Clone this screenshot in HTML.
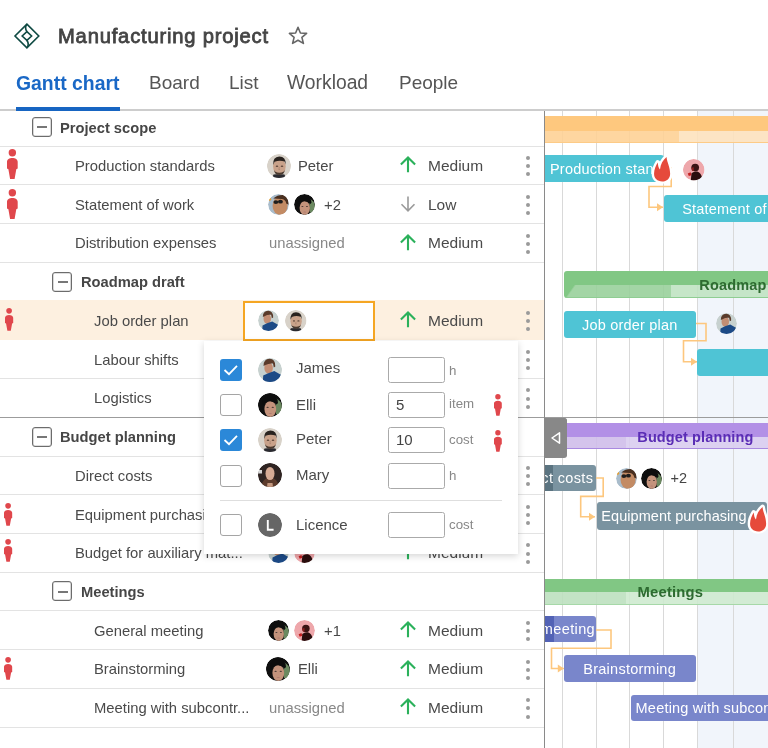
<!DOCTYPE html>
<html><head><meta charset="utf-8"><style>
html,body{margin:0;padding:0}
body{width:768px;height:748px;overflow:hidden;position:relative;background:#fff;font-family:"Liberation Sans", sans-serif}
.a{position:absolute}
.t{position:absolute;white-space:nowrap}
body>*{will-change:transform}
svg{overflow:visible}
</style></head><body>
<div class="a" style="left:0;top:0;width:768px;height:748px;overflow:hidden">
<div class="a" style="left:697px;top:110px;width:71px;height:638px;background:#f1f5fb"></div><div class="a" style="left:562px;top:110px;width:1px;height:638px;background:#d9d9d9"></div><div class="a" style="left:596px;top:110px;width:1px;height:638px;background:#d9d9d9"></div><div class="a" style="left:629px;top:110px;width:1px;height:638px;background:#d9d9d9"></div><div class="a" style="left:663px;top:110px;width:1px;height:638px;background:#d9d9d9"></div><div class="a" style="left:697px;top:110px;width:1px;height:638px;background:#d9d9d9"></div><div class="a" style="left:733px;top:110px;width:1px;height:638px;background:#d9d9d9"></div><div class="a" style="left:530.00px;top:116.00px;width:260.00px;height:27.00px;border-radius:3px;overflow:hidden"><div class="a" style="left:0;top:0;width:100%;height:15.00px;background:#fec87e"></div><div class="a" style="left:0;top:15.00px;width:148.50px;height:12.00px;background:rgba(254,208,147,0.88);"></div><div class="a" style="left:148.50px;top:15.00px;width:111.50px;height:12.00px;background:rgba(253,225,188,0.88)"></div><div class="a" style="left:0;top:26.00px;width:100%;height:1px;background:#fdcb87"></div></div><div class="a" style="left:530.00px;top:155.00px;width:134.00px;height:26.50px;background:#4fc4d5;border-radius:3px;overflow:hidden"></div><div class="t" style="left:550.00px;top:153.65px;height:30px;line-height:30px;font-size:14.5px;font-weight:normal;color:#fff;letter-spacing:0.2px;">Production standards</div><div class="a" style="left:664.00px;top:195.00px;width:126.00px;height:26.60px;background:#4fc4d5;border-radius:3px;overflow:hidden"></div><div class="t" style="left:682.20px;top:193.70px;height:30px;line-height:30px;font-size:14.5px;font-weight:normal;color:#fff;letter-spacing:0.2px;">Statement of work</div><div class="a" style="left:563.60px;top:271.00px;width:226.40px;height:26.80px;border-radius:3px;overflow:hidden"><div class="a" style="left:0;top:0;width:100%;height:14.00px;background:#81c784"></div><div class="a" style="left:0;top:14.00px;width:12px;height:12.80px;background:#81c784;clip-path:polygon(0 0,12px 0,3px 100%,0 100%)"></div><div class="a" style="left:0;top:14.00px;width:107.40px;height:12.80px;background:rgba(150,207,153,0.88);clip-path:polygon(11px 0,100% 0,100% 100%,2px 100%)"></div><div class="a" style="left:107.40px;top:14.00px;width:119.00px;height:12.80px;background:rgba(190,227,192,0.88)"></div><div class="a" style="left:0;top:25.80px;width:100%;height:1px;background:#8fcd92"></div></div><div class="t" style="left:699.30px;top:269.90px;height:30px;line-height:30px;font-size:14.5px;font-weight:bold;color:#2e6b31;letter-spacing:0.15px;">Roadmap</div><div class="a" style="left:563.60px;top:311.40px;width:132.40px;height:26.40px;background:#4fc4d5;border-radius:3px;overflow:hidden"></div><div class="t" style="left:563.60px;width:132.40px;text-align:center;top:309.60px;height:30px;line-height:30px;font-size:14.5px;color:#fff;letter-spacing:0.2px">Job order plan</div><div class="a" style="left:697.30px;top:348.60px;width:92.70px;height:27.50px;background:#4fc4d5;border-radius:3px;overflow:hidden"></div><div class="a" style="left:530.00px;top:423.30px;width:260.00px;height:26.20px;border-radius:3px;overflow:hidden"><div class="a" style="left:0;top:0;width:100%;height:13.40px;background:#b290e6"></div><div class="a" style="left:0;top:13.40px;width:96.40px;height:12.80px;background:rgba(206,188,233,0.88);"></div><div class="a" style="left:96.40px;top:13.40px;width:163.60px;height:12.80px;background:rgba(216,204,239,0.88)"></div><div class="a" style="left:0;top:25.20px;width:100%;height:1px;background:#a98ae0"></div></div><div class="t" style="left:637.30px;top:421.90px;height:30px;line-height:30px;font-size:14.5px;font-weight:bold;color:#5a2db5;letter-spacing:0.12px;">Budget planning</div><div class="a" style="left:530.00px;top:465.00px;width:65.60px;height:26.20px;background:#7a93a0;border-radius:3px;overflow:hidden"><div class="a" style="left:0;top:0;width:23.00px;height:100%;background:#5a7380"></div></div><div class="t" style="left:400px;width:193.4px;text-align:right;top:463.10px;height:30px;line-height:30px;font-size:14.5px;color:#fff;letter-spacing:0.37px">Direct costs</div><div class="a" style="left:597.00px;top:501.90px;width:170.00px;height:27.90px;background:#7a93a0;border-radius:3px;overflow:hidden"></div><div class="t" style="left:601.30px;top:501.25px;height:30px;line-height:30px;font-size:14.5px;font-weight:normal;color:#fff;letter-spacing:0.05px;">Equipment purchasing</div><div class="a" style="left:530.00px;top:578.80px;width:260.00px;height:26.00px;border-radius:3px;overflow:hidden"><div class="a" style="left:0;top:0;width:100%;height:13.20px;background:#81c784"></div><div class="a" style="left:0;top:13.20px;width:96.30px;height:12.80px;background:rgba(187,223,189,0.88);"></div><div class="a" style="left:96.30px;top:13.20px;width:163.70px;height:12.80px;background:rgba(205,233,206,0.88)"></div><div class="a" style="left:0;top:25.00px;width:100%;height:1px;background:#a6d8a8"></div></div><div class="t" style="left:637.50px;top:576.90px;height:30px;line-height:30px;font-size:14.8px;font-weight:bold;color:#2e6b31;letter-spacing:0.2px;">Meetings</div><div class="a" style="left:530.00px;top:616.00px;width:65.80px;height:26.20px;background:#7986cb;border-radius:3px;overflow:hidden"><div class="a" style="left:0;top:0;width:24.30px;height:100%;background:#5262b5"></div></div><div class="t" style="left:400px;width:195px;text-align:right;top:614.10px;height:30px;line-height:30px;font-size:14.5px;color:#fff;letter-spacing:0.37px">General meeting</div><div class="a" style="left:563.80px;top:654.60px;width:131.90px;height:27.70px;background:#7986cb;border-radius:3px;overflow:hidden"></div><div class="t" style="left:583.30px;top:653.85px;height:30px;line-height:30px;font-size:14.5px;font-weight:normal;color:#fff;letter-spacing:0.25px;">Brainstorming</div><div class="a" style="left:630.60px;top:694.50px;width:159.40px;height:26.30px;background:#7986cb;border-radius:3px;overflow:hidden"></div><div class="t" style="left:635.60px;top:693.05px;height:30px;line-height:30px;font-size:14.5px;font-weight:normal;color:#fff;letter-spacing:0.2px;">Meeting with subcontractors</div><svg class="a" style="left:0;top:0" width="768" height="748"><path d="M664,168 L671.2,168 L671.2,186.5 L649,186.5 L649,207.3 L663,207.3" stroke="#fdc77e" stroke-width="1.6" fill="none"/><path d="M657,203.3 L663,207.3 L657,211.3Z" fill="#fdc77e"/></svg><svg class="a" style="left:0;top:0" width="768" height="748"><path d="M696,323.5 L706,323.5 L706,340.8 L683.5,340.8 L683.5,361.7 L697,361.7" stroke="#fdc77e" stroke-width="1.6" fill="none"/><path d="M691,357.7 L697,361.7 L691,365.7Z" fill="#fdc77e"/></svg><svg class="a" style="left:0;top:0" width="768" height="748"><path d="M596,478 L603.2,478 L603.2,496.4 L580.7,496.4 L580.7,516.7 L595,516.7" stroke="#fdc77e" stroke-width="1.6" fill="none"/><path d="M589,512.7 L595,516.7 L589,520.7Z" fill="#fdc77e"/></svg><svg class="a" style="left:0;top:0" width="768" height="748"><path d="M596,630 L611,630 L611,648.2 L551.5,648.2 L551.5,668.5 L563.8,668.5" stroke="#fdc77e" stroke-width="1.6" fill="none"/><path d="M557.8,664.5 L563.8,668.5 L557.8,672.5Z" fill="#fdc77e"/></svg><svg class="a" style="left:653.60px;top:156.80px" width="16.2" height="24.4" viewBox="0 0 14.7 22.3"><path d="M11.4,0 C12,5.5 14.7,9 14.7,15.2 C14.7,19.6 11.6,22.3 7.4,22.3 C3.1,22.3 0,19.5 0,15.3 C0,11 1.8,7.5 3.4,5 C3.6,8 4.2,10 5.4,11.4 C5.9,6.5 8.2,2.8 11.4,0 Z" fill="#e64a3b" stroke="#fff" stroke-width="4.4" paint-order="stroke" stroke-linejoin="round"/></svg><svg class="a" style="left:750.00px;top:506.70px" width="16.2" height="24.4" viewBox="0 0 14.7 22.3"><path d="M11.4,0 C12,5.5 14.7,9 14.7,15.2 C14.7,19.6 11.6,22.3 7.4,22.3 C3.1,22.3 0,19.5 0,15.3 C0,11 1.8,7.5 3.4,5 C3.6,8 4.2,10 5.4,11.4 C5.9,6.5 8.2,2.8 11.4,0 Z" fill="#e64a3b" stroke="#fff" stroke-width="4.4" paint-order="stroke" stroke-linejoin="round"/></svg><svg class="a" style="left:682.65px;top:158.65px" width="21.5" height="21.5" viewBox="0 0 24 24"><defs><clipPath id="c1"><circle cx="12" cy="12" r="12"/></clipPath></defs><g clip-path="url(#c1)"><circle cx="12" cy="12" r="12" fill="#eea7ab"/><path d="M8.7,24 L9.5,16 Q12,13.6 16,14 Q20.5,15.5 21.5,22 L20,24Z" fill="#2a0e0e"/><circle cx="13.6" cy="9.6" r="4.3" fill="#3a1414"/><path d="M9.5,9.8 L12,9.2 L12,13.5 L10,13Z" fill="#8f1f1f"/><path d="M5.3,16.2 L8.5,14.8 L9.5,18 L6.5,19Z" fill="#c21f1f"/></g></svg><svg class="a" style="left:716.00px;top:312.90px" width="21" height="21" viewBox="0 0 24 24"><defs><clipPath id="c2"><circle cx="12" cy="12" r="12"/></clipPath></defs><g clip-path="url(#c2)"><circle cx="12" cy="12" r="12" fill="#c7d1cf"/><ellipse cx="10.6" cy="10" rx="4.3" ry="5.6" fill="#c38e74"/><path d="M5.5,8 Q5.5,1 11.5,0.8 Q17.5,1 17.3,8.5 L15.8,9.5 L15,5.5 Q11,5 7.5,7Z" fill="#5a3b2b"/><path d="M4.8,24 L5.2,17.6 L10.3,15.2 L16.3,13 L22.8,16.8 L20.5,24Z" fill="#1c4a86"/></g></svg><svg class="a" style="left:615.80px;top:467.50px" width="21" height="21" viewBox="0 0 24 24"><defs><clipPath id="c3"><circle cx="12" cy="12" r="12"/></clipPath></defs><g clip-path="url(#c3)"><circle cx="12" cy="12" r="12" fill="#a9bccb"/><ellipse cx="13.8" cy="13.5" rx="8.6" ry="10.5" fill="#c38b64"/><path d="M6,5 Q12,0 20,1.5 Q24,5 23.5,12 L21,11 Q20,6.5 16,5.8Z" fill="#4a3020"/><ellipse cx="9" cy="9.2" rx="2.8" ry="2.1" fill="#1e1e1e"/><ellipse cx="14.2" cy="8.8" rx="2.8" ry="2.1" fill="#1e1e1e"/><circle cx="1.8" cy="6" r="1.8" fill="#e8a030"/></g></svg><svg class="a" style="left:641.10px;top:467.50px" width="21" height="21" viewBox="0 0 24 24"><defs><clipPath id="c4"><circle cx="12" cy="12" r="12"/></clipPath></defs><g clip-path="url(#c4)"><circle cx="12" cy="12" r="12" fill="#0f0f0f"/><path d="M17.3,5 Q24,8 24,14 L22,22 L18,21Z" fill="#6b8960"/><ellipse cx="12.3" cy="16" rx="5.9" ry="8" fill="#c4937c"/><path d="M4,10 Q5,2 12,2 Q19.5,2 20,10 L18.6,11.5 Q16,8.5 12,8.2 Q7.5,8.2 5.2,12Z" fill="#0d0d0d"/><ellipse cx="9.6" cy="14.3" rx="1.2" ry="0.6" fill="#4a3a35"/><ellipse cx="14.8" cy="14.3" rx="1.2" ry="0.6" fill="#4a3a35"/><ellipse cx="12.3" cy="20.5" rx="1.6" ry="0.6" fill="#b07a70"/></g></svg><div class="t" style="left:670.50px;top:463.40px;height:30px;line-height:30px;font-size:14.5px;font-weight:normal;color:#444;letter-spacing:0px;">+2</div><div class="a" style="left:544px;top:418.3px;width:23.4px;height:39.3px;background:#888;border-radius:0 3px 3px 0"></div><svg class="a" style="left:550px;top:431px" width="12" height="14" viewBox="0 0 12 14"><path d="M9.5,1.8 L9.5,12.2 L2,7Z" stroke="#fff" stroke-width="1.5" fill="none" stroke-linejoin="round"/></svg>
</div>
<div class="a" style="left:0;top:110px;width:544px;height:638px;background:#fff"></div><div class="a" style="left:0;top:300.4px;width:544px;height:40.1px;background:#fdf0e0"></div><div class="a" style="left:0px;top:145.70px;width:544px;height:1px;background:#e3e3e3"></div><div class="a" style="left:0px;top:184.43px;width:544px;height:1px;background:#e3e3e3"></div><div class="a" style="left:0px;top:223.16px;width:544px;height:1px;background:#e3e3e3"></div><div class="a" style="left:0px;top:261.89px;width:544px;height:1px;background:#e3e3e3"></div><div class="a" style="left:0px;top:378.08px;width:544px;height:1px;background:#e3e3e3"></div><div class="a" style="left:0px;top:417.01px;width:768px;height:1px;background:#9c9c9c"></div><div class="a" style="left:0px;top:455.54px;width:544px;height:1px;background:#e3e3e3"></div><div class="a" style="left:0px;top:494.27px;width:544px;height:1px;background:#e3e3e3"></div><div class="a" style="left:0px;top:533.00px;width:544px;height:1px;background:#e3e3e3"></div><div class="a" style="left:0px;top:571.73px;width:544px;height:1px;background:#e3e3e3"></div><div class="a" style="left:0px;top:610.46px;width:544px;height:1px;background:#e3e3e3"></div><div class="a" style="left:0px;top:649.19px;width:544px;height:1px;background:#e3e3e3"></div><div class="a" style="left:0px;top:687.92px;width:544px;height:1px;background:#e3e3e3"></div><div class="a" style="left:0px;top:726.65px;width:544px;height:1px;background:#e3e3e3"></div><div class="a" style="left:32px;top:116.66px;width:18px;height:18px;border:1px solid #6c6c6c;border-radius:3px;box-shadow:inset 0 0 0 0.6px rgba(108,108,108,0.45)"></div><div class="a" style="left:37.3px;top:125.86px;width:9.6px;height:1.5px;background:#777"></div><div class="t" style="left:60.30px;top:112.56px;height:30px;line-height:30px;font-size:14.7px;font-weight:bold;color:#464646;letter-spacing:0px;">Project scope</div><div class="a" style="left:52.4px;top:271.58px;width:18px;height:18px;border:1px solid #6c6c6c;border-radius:3px;box-shadow:inset 0 0 0 0.6px rgba(108,108,108,0.45)"></div><div class="a" style="left:57.699999999999996px;top:280.78px;width:9.6px;height:1.5px;background:#777"></div><div class="t" style="left:80.70px;top:267.48px;height:30px;line-height:30px;font-size:14.7px;font-weight:bold;color:#464646;letter-spacing:0px;">Roadmap draft</div><div class="a" style="left:32px;top:426.50px;width:18px;height:18px;border:1px solid #6c6c6c;border-radius:3px;box-shadow:inset 0 0 0 0.6px rgba(108,108,108,0.45)"></div><div class="a" style="left:37.3px;top:435.70px;width:9.6px;height:1.5px;background:#777"></div><div class="t" style="left:60.30px;top:422.40px;height:30px;line-height:30px;font-size:14.7px;font-weight:bold;color:#464646;letter-spacing:0px;">Budget planning</div><div class="a" style="left:52.4px;top:581.42px;width:18px;height:18px;border:1px solid #6c6c6c;border-radius:3px;box-shadow:inset 0 0 0 0.6px rgba(108,108,108,0.45)"></div><div class="a" style="left:57.699999999999996px;top:590.62px;width:9.6px;height:1.5px;background:#777"></div><div class="t" style="left:80.70px;top:577.32px;height:30px;line-height:30px;font-size:14.7px;font-weight:bold;color:#464646;letter-spacing:0px;">Meetings</div><div class="t" style="left:75.00px;top:151.00px;height:30px;line-height:30px;font-size:14.8px;font-weight:normal;color:#4a4a4a;letter-spacing:0px;">Production standards</div><div class="t" style="left:75.00px;top:189.72px;height:30px;line-height:30px;font-size:14.8px;font-weight:normal;color:#4a4a4a;letter-spacing:0px;">Statement of work</div><div class="t" style="left:75.00px;top:228.46px;height:30px;line-height:30px;font-size:14.8px;font-weight:normal;color:#4a4a4a;letter-spacing:0px;">Distribution expenses</div><div class="t" style="left:93.60px;top:305.91px;height:30px;line-height:30px;font-size:14.8px;font-weight:normal;color:#4a4a4a;letter-spacing:0px;">Job order plan</div><div class="t" style="left:93.60px;top:344.64px;height:30px;line-height:30px;font-size:14.8px;font-weight:normal;color:#4a4a4a;letter-spacing:0px;">Labour shifts</div><div class="t" style="left:93.60px;top:383.37px;height:30px;line-height:30px;font-size:14.8px;font-weight:normal;color:#4a4a4a;letter-spacing:0px;">Logistics</div><div class="t" style="left:75.00px;top:460.83px;height:30px;line-height:30px;font-size:14.8px;font-weight:normal;color:#4a4a4a;letter-spacing:0px;">Direct costs</div><div class="t" style="left:75.00px;top:499.56px;height:30px;line-height:30px;font-size:14.8px;font-weight:normal;color:#4a4a4a;letter-spacing:0px;">Equipment purchasi</div><div class="t" style="left:75.00px;top:538.29px;height:30px;line-height:30px;font-size:14.8px;font-weight:normal;color:#4a4a4a;letter-spacing:0px;">Budget for auxiliary mat...</div><div class="t" style="left:93.60px;top:615.75px;height:30px;line-height:30px;font-size:14.8px;font-weight:normal;color:#4a4a4a;letter-spacing:0px;">General meeting</div><div class="t" style="left:93.60px;top:654.48px;height:30px;line-height:30px;font-size:14.8px;font-weight:normal;color:#4a4a4a;letter-spacing:0px;">Brainstorming</div><div class="t" style="left:93.60px;top:693.21px;height:30px;line-height:30px;font-size:14.8px;font-weight:normal;color:#4a4a4a;letter-spacing:0px;">Meeting with subcontr...</div><svg class="a" style="left:6.60px;top:149.30px" width="10.70" height="30.00" viewBox="0 0 10.7 30"><circle cx="5.35" cy="3.7" r="3.7" fill="#e0474c"/><path d="M0,12.8 C0,10.6 2.4,9.1 5.35,9.1 C8.3,9.1 10.7,10.6 10.7,12.8 L10.7,19.6 L9.3,20.2 L7.6,29.9 L3.1,29.9 L1.4,20.2 L0,19.6 Z" fill="#e0474c"/></svg><svg class="a" style="left:6.60px;top:189.40px" width="10.70" height="30.00" viewBox="0 0 10.7 30"><circle cx="5.35" cy="3.7" r="3.7" fill="#e0474c"/><path d="M0,12.8 C0,10.6 2.4,9.1 5.35,9.1 C8.3,9.1 10.7,10.6 10.7,12.8 L10.7,19.6 L9.3,20.2 L7.6,29.9 L3.1,29.9 L1.4,20.2 L0,19.6 Z" fill="#e0474c"/></svg><svg class="a" style="left:5.20px;top:308.30px" width="8.19" height="22.95" viewBox="0 0 10.7 30"><circle cx="5.35" cy="3.7" r="3.7" fill="#e0474c"/><path d="M0,12.8 C0,10.6 2.4,9.1 5.35,9.1 C8.3,9.1 10.7,10.6 10.7,12.8 L10.7,19.6 L9.3,20.2 L7.6,29.9 L3.1,29.9 L1.4,20.2 L0,19.6 Z" fill="#e0474c"/></svg><svg class="a" style="left:4.10px;top:503.30px" width="8.19" height="22.95" viewBox="0 0 10.7 30"><circle cx="5.35" cy="3.7" r="3.7" fill="#e0474c"/><path d="M0,12.8 C0,10.6 2.4,9.1 5.35,9.1 C8.3,9.1 10.7,10.6 10.7,12.8 L10.7,19.6 L9.3,20.2 L7.6,29.9 L3.1,29.9 L1.4,20.2 L0,19.6 Z" fill="#e0474c"/></svg><svg class="a" style="left:4.10px;top:539.40px" width="8.19" height="22.95" viewBox="0 0 10.7 30"><circle cx="5.35" cy="3.7" r="3.7" fill="#e0474c"/><path d="M0,12.8 C0,10.6 2.4,9.1 5.35,9.1 C8.3,9.1 10.7,10.6 10.7,12.8 L10.7,19.6 L9.3,20.2 L7.6,29.9 L3.1,29.9 L1.4,20.2 L0,19.6 Z" fill="#e0474c"/></svg><svg class="a" style="left:4.00px;top:657.00px" width="8.19" height="22.95" viewBox="0 0 10.7 30"><circle cx="5.35" cy="3.7" r="3.7" fill="#e0474c"/><path d="M0,12.8 C0,10.6 2.4,9.1 5.35,9.1 C8.3,9.1 10.7,10.6 10.7,12.8 L10.7,19.6 L9.3,20.2 L7.6,29.9 L3.1,29.9 L1.4,20.2 L0,19.6 Z" fill="#e0474c"/></svg><svg class="a" style="left:267.20px;top:153.59px" width="24" height="24" viewBox="0 0 24 24"><defs><clipPath id="c5"><circle cx="12" cy="12" r="12"/></clipPath></defs><g clip-path="url(#c5)"><circle cx="12" cy="12" r="12" fill="#d8d2c9"/><path d="M5,24 L6.5,20.5 Q12,19.5 17.5,20.5 L19,24Z" fill="#2a2a30"/><ellipse cx="12.4" cy="12.6" rx="6.3" ry="7.9" fill="#c9a28a"/><path d="M7,16 Q7.5,20.8 12.4,21 Q17.3,20.8 17.8,16 L16.8,17.5 Q12.4,20 8,17.5Z" fill="#4a3a30"/><path d="M6.2,11 Q5.6,3 12.3,2.6 Q19,2.6 18.7,10.5 L17.6,7.6 Q12.6,5.8 7.6,7.8Z" fill="#29231f"/><ellipse cx="10" cy="12.2" rx="1.3" ry="0.7" fill="#5a4438"/><ellipse cx="15" cy="12.2" rx="1.3" ry="0.7" fill="#5a4438"/><path d="M12.4,13 L11.8,15.6 L13,15.6" stroke="#a57e68" stroke-width="0.6" fill="none"/></g></svg><div class="t" style="left:298.40px;top:151.00px;height:30px;line-height:30px;font-size:14.8px;font-weight:normal;color:#484848;letter-spacing:0px;">Peter</div><svg class="a" style="left:268.40px;top:193.82px" width="21" height="21" viewBox="0 0 24 24"><defs><clipPath id="c6"><circle cx="12" cy="12" r="12"/></clipPath></defs><g clip-path="url(#c6)"><circle cx="12" cy="12" r="12" fill="#a9bccb"/><ellipse cx="13.8" cy="13.5" rx="8.6" ry="10.5" fill="#c38b64"/><path d="M6,5 Q12,0 20,1.5 Q24,5 23.5,12 L21,11 Q20,6.5 16,5.8Z" fill="#4a3020"/><ellipse cx="9" cy="9.2" rx="2.8" ry="2.1" fill="#1e1e1e"/><ellipse cx="14.2" cy="8.8" rx="2.8" ry="2.1" fill="#1e1e1e"/><circle cx="1.8" cy="6" r="1.8" fill="#e8a030"/></g></svg><svg class="a" style="left:294.10px;top:193.82px" width="21" height="21" viewBox="0 0 24 24"><defs><clipPath id="c7"><circle cx="12" cy="12" r="12"/></clipPath></defs><g clip-path="url(#c7)"><circle cx="12" cy="12" r="12" fill="#0f0f0f"/><path d="M17.3,5 Q24,8 24,14 L22,22 L18,21Z" fill="#6b8960"/><ellipse cx="12.3" cy="16" rx="5.9" ry="8" fill="#c4937c"/><path d="M4,10 Q5,2 12,2 Q19.5,2 20,10 L18.6,11.5 Q16,8.5 12,8.2 Q7.5,8.2 5.2,12Z" fill="#0d0d0d"/><ellipse cx="9.6" cy="14.3" rx="1.2" ry="0.6" fill="#4a3a35"/><ellipse cx="14.8" cy="14.3" rx="1.2" ry="0.6" fill="#4a3a35"/><ellipse cx="12.3" cy="20.5" rx="1.6" ry="0.6" fill="#b07a70"/></g></svg><div class="t" style="left:323.80px;top:189.72px;height:30px;line-height:30px;font-size:14.8px;font-weight:normal;color:#484848;letter-spacing:0px;">+2</div><div class="t" style="left:268.50px;top:228.46px;height:30px;line-height:30px;font-size:14.8px;font-weight:normal;color:#888;letter-spacing:0px;">unassigned</div><div class="a" style="left:243.2px;top:300.7px;width:132.3px;height:39.8px;box-sizing:border-box;border:2px solid #f5a623;background:#fff"></div><svg class="a" style="left:257.90px;top:310.00px" width="21" height="21" viewBox="0 0 24 24"><defs><clipPath id="c8"><circle cx="12" cy="12" r="12"/></clipPath></defs><g clip-path="url(#c8)"><circle cx="12" cy="12" r="12" fill="#c7d1cf"/><ellipse cx="10.6" cy="10" rx="4.3" ry="5.6" fill="#c38e74"/><path d="M5.5,8 Q5.5,1 11.5,0.8 Q17.5,1 17.3,8.5 L15.8,9.5 L15,5.5 Q11,5 7.5,7Z" fill="#5a3b2b"/><path d="M4.8,24 L5.2,17.6 L10.3,15.2 L16.3,13 L22.8,16.8 L20.5,24Z" fill="#1c4a86"/></g></svg><svg class="a" style="left:284.55px;top:309.75px" width="21.5" height="21.5" viewBox="0 0 24 24"><defs><clipPath id="c9"><circle cx="12" cy="12" r="12"/></clipPath></defs><g clip-path="url(#c9)"><circle cx="12" cy="12" r="12" fill="#d8d2c9"/><path d="M5,24 L6.5,20.5 Q12,19.5 17.5,20.5 L19,24Z" fill="#2a2a30"/><ellipse cx="12.4" cy="12.6" rx="6.3" ry="7.9" fill="#c9a28a"/><path d="M7,16 Q7.5,20.8 12.4,21 Q17.3,20.8 17.8,16 L16.8,17.5 Q12.4,20 8,17.5Z" fill="#4a3a30"/><path d="M6.2,11 Q5.6,3 12.3,2.6 Q19,2.6 18.7,10.5 L17.6,7.6 Q12.6,5.8 7.6,7.8Z" fill="#29231f"/><ellipse cx="10" cy="12.2" rx="1.3" ry="0.7" fill="#5a4438"/><ellipse cx="15" cy="12.2" rx="1.3" ry="0.7" fill="#5a4438"/><path d="M12.4,13 L11.8,15.6 L13,15.6" stroke="#a57e68" stroke-width="0.6" fill="none"/></g></svg><svg class="a" style="left:268.40px;top:619.86px" width="21" height="21" viewBox="0 0 24 24"><defs><clipPath id="c10"><circle cx="12" cy="12" r="12"/></clipPath></defs><g clip-path="url(#c10)"><circle cx="12" cy="12" r="12" fill="#0f0f0f"/><path d="M17.3,5 Q24,8 24,14 L22,22 L18,21Z" fill="#6b8960"/><ellipse cx="12.3" cy="16" rx="5.9" ry="8" fill="#c4937c"/><path d="M4,10 Q5,2 12,2 Q19.5,2 20,10 L18.6,11.5 Q16,8.5 12,8.2 Q7.5,8.2 5.2,12Z" fill="#0d0d0d"/><ellipse cx="9.6" cy="14.3" rx="1.2" ry="0.6" fill="#4a3a35"/><ellipse cx="14.8" cy="14.3" rx="1.2" ry="0.6" fill="#4a3a35"/><ellipse cx="12.3" cy="20.5" rx="1.6" ry="0.6" fill="#b07a70"/></g></svg><svg class="a" style="left:294.10px;top:619.86px" width="21" height="21" viewBox="0 0 24 24"><defs><clipPath id="c11"><circle cx="12" cy="12" r="12"/></clipPath></defs><g clip-path="url(#c11)"><circle cx="12" cy="12" r="12" fill="#eea7ab"/><path d="M8.7,24 L9.5,16 Q12,13.6 16,14 Q20.5,15.5 21.5,22 L20,24Z" fill="#2a0e0e"/><circle cx="13.6" cy="9.6" r="4.3" fill="#3a1414"/><path d="M9.5,9.8 L12,9.2 L12,13.5 L10,13Z" fill="#8f1f1f"/><path d="M5.3,16.2 L8.5,14.8 L9.5,18 L6.5,19Z" fill="#c21f1f"/></g></svg><div class="t" style="left:323.80px;top:615.75px;height:30px;line-height:30px;font-size:14.8px;font-weight:normal;color:#484848;letter-spacing:0px;">+1</div><svg class="a" style="left:266.20px;top:657.08px" width="24" height="24" viewBox="0 0 24 24"><defs><clipPath id="c12"><circle cx="12" cy="12" r="12"/></clipPath></defs><g clip-path="url(#c12)"><circle cx="12" cy="12" r="12" fill="#0f0f0f"/><path d="M17.3,5 Q24,8 24,14 L22,22 L18,21Z" fill="#6b8960"/><ellipse cx="12.3" cy="16" rx="5.9" ry="8" fill="#c4937c"/><path d="M4,10 Q5,2 12,2 Q19.5,2 20,10 L18.6,11.5 Q16,8.5 12,8.2 Q7.5,8.2 5.2,12Z" fill="#0d0d0d"/><ellipse cx="9.6" cy="14.3" rx="1.2" ry="0.6" fill="#4a3a35"/><ellipse cx="14.8" cy="14.3" rx="1.2" ry="0.6" fill="#4a3a35"/><ellipse cx="12.3" cy="20.5" rx="1.6" ry="0.6" fill="#b07a70"/></g></svg><div class="t" style="left:298.40px;top:654.48px;height:30px;line-height:30px;font-size:14.8px;font-weight:normal;color:#484848;letter-spacing:0px;">Elli</div><div class="t" style="left:268.50px;top:693.21px;height:30px;line-height:30px;font-size:14.8px;font-weight:normal;color:#888;letter-spacing:0px;">unassigned</div><svg class="a" style="left:268.40px;top:542.39px" width="21" height="21" viewBox="0 0 24 24"><defs><clipPath id="c13"><circle cx="12" cy="12" r="12"/></clipPath></defs><g clip-path="url(#c13)"><circle cx="12" cy="12" r="12" fill="#c7d1cf"/><ellipse cx="10.6" cy="10" rx="4.3" ry="5.6" fill="#c38e74"/><path d="M5.5,8 Q5.5,1 11.5,0.8 Q17.5,1 17.3,8.5 L15.8,9.5 L15,5.5 Q11,5 7.5,7Z" fill="#5a3b2b"/><path d="M4.8,24 L5.2,17.6 L10.3,15.2 L16.3,13 L22.8,16.8 L20.5,24Z" fill="#1c4a86"/></g></svg><svg class="a" style="left:294.10px;top:542.39px" width="21" height="21" viewBox="0 0 24 24"><defs><clipPath id="c14"><circle cx="12" cy="12" r="12"/></clipPath></defs><g clip-path="url(#c14)"><circle cx="12" cy="12" r="12" fill="#eea7ab"/><path d="M8.7,24 L9.5,16 Q12,13.6 16,14 Q20.5,15.5 21.5,22 L20,24Z" fill="#2a0e0e"/><circle cx="13.6" cy="9.6" r="4.3" fill="#3a1414"/><path d="M9.5,9.8 L12,9.2 L12,13.5 L10,13Z" fill="#8f1f1f"/><path d="M5.3,16.2 L8.5,14.8 L9.5,18 L6.5,19Z" fill="#c21f1f"/></g></svg><svg class="a" style="left:399.50px;top:156.09px" width="16" height="16" viewBox="0 0 16 16"><path d="M8,1.4 L8,16.2 M0.9,8.5 L8,1.4 L15.1,8.5" stroke="#2bb15b" stroke-width="2.1" fill="none"/></svg><div class="t" style="left:428.00px;top:151.00px;height:30px;line-height:30px;font-size:15.5px;font-weight:normal;color:#4a4a4a;letter-spacing:0px;">Medium</div><svg class="a" style="left:399.50px;top:233.56px" width="16" height="16" viewBox="0 0 16 16"><path d="M8,1.4 L8,16.2 M0.9,8.5 L8,1.4 L15.1,8.5" stroke="#2bb15b" stroke-width="2.1" fill="none"/></svg><div class="t" style="left:428.00px;top:228.46px;height:30px;line-height:30px;font-size:15.5px;font-weight:normal;color:#4a4a4a;letter-spacing:0px;">Medium</div><svg class="a" style="left:399.50px;top:311.01px" width="16" height="16" viewBox="0 0 16 16"><path d="M8,1.4 L8,16.2 M0.9,8.5 L8,1.4 L15.1,8.5" stroke="#2bb15b" stroke-width="2.1" fill="none"/></svg><div class="t" style="left:428.00px;top:305.91px;height:30px;line-height:30px;font-size:15.5px;font-weight:normal;color:#4a4a4a;letter-spacing:0px;">Medium</div><svg class="a" style="left:399.50px;top:543.39px" width="16" height="16" viewBox="0 0 16 16"><path d="M8,1.4 L8,16.2 M0.9,8.5 L8,1.4 L15.1,8.5" stroke="#2bb15b" stroke-width="2.1" fill="none"/></svg><div class="t" style="left:428.00px;top:538.29px;height:30px;line-height:30px;font-size:15.5px;font-weight:normal;color:#4a4a4a;letter-spacing:0px;">Medium</div><svg class="a" style="left:399.50px;top:620.86px" width="16" height="16" viewBox="0 0 16 16"><path d="M8,1.4 L8,16.2 M0.9,8.5 L8,1.4 L15.1,8.5" stroke="#2bb15b" stroke-width="2.1" fill="none"/></svg><div class="t" style="left:428.00px;top:615.75px;height:30px;line-height:30px;font-size:15.5px;font-weight:normal;color:#4a4a4a;letter-spacing:0px;">Medium</div><svg class="a" style="left:399.50px;top:659.58px" width="16" height="16" viewBox="0 0 16 16"><path d="M8,1.4 L8,16.2 M0.9,8.5 L8,1.4 L15.1,8.5" stroke="#2bb15b" stroke-width="2.1" fill="none"/></svg><div class="t" style="left:428.00px;top:654.48px;height:30px;line-height:30px;font-size:15.5px;font-weight:normal;color:#4a4a4a;letter-spacing:0px;">Medium</div><svg class="a" style="left:399.50px;top:698.31px" width="16" height="16" viewBox="0 0 16 16"><path d="M8,1.4 L8,16.2 M0.9,8.5 L8,1.4 L15.1,8.5" stroke="#2bb15b" stroke-width="2.1" fill="none"/></svg><div class="t" style="left:428.00px;top:693.21px;height:30px;line-height:30px;font-size:15.5px;font-weight:normal;color:#4a4a4a;letter-spacing:0px;">Medium</div><svg class="a" style="left:399.50px;top:195.62px" width="16" height="16" viewBox="0 0 16 16"><path d="M8,0.5 L8,14.8 M1.5,8.3 L8,14.8 L14.5,8.3" stroke="#9a9a9a" stroke-width="1.6" fill="none"/></svg><div class="t" style="left:428.00px;top:189.72px;height:30px;line-height:30px;font-size:15.5px;font-weight:normal;color:#4a4a4a;letter-spacing:0px;">Low</div><div class="a" style="left:526.20px;top:156.09px;width:4.2px;height:4.2px;border-radius:50%;background:#9a9a9a"></div><div class="a" style="left:526.20px;top:164.19px;width:4.2px;height:4.2px;border-radius:50%;background:#9a9a9a"></div><div class="a" style="left:526.20px;top:172.29px;width:4.2px;height:4.2px;border-radius:50%;background:#9a9a9a"></div><div class="a" style="left:526.20px;top:194.82px;width:4.2px;height:4.2px;border-radius:50%;background:#9a9a9a"></div><div class="a" style="left:526.20px;top:202.92px;width:4.2px;height:4.2px;border-radius:50%;background:#9a9a9a"></div><div class="a" style="left:526.20px;top:211.02px;width:4.2px;height:4.2px;border-radius:50%;background:#9a9a9a"></div><div class="a" style="left:526.20px;top:233.56px;width:4.2px;height:4.2px;border-radius:50%;background:#9a9a9a"></div><div class="a" style="left:526.20px;top:241.66px;width:4.2px;height:4.2px;border-radius:50%;background:#9a9a9a"></div><div class="a" style="left:526.20px;top:249.75px;width:4.2px;height:4.2px;border-radius:50%;background:#9a9a9a"></div><div class="a" style="left:526.20px;top:311.01px;width:4.2px;height:4.2px;border-radius:50%;background:#9a9a9a"></div><div class="a" style="left:526.20px;top:319.12px;width:4.2px;height:4.2px;border-radius:50%;background:#9a9a9a"></div><div class="a" style="left:526.20px;top:327.22px;width:4.2px;height:4.2px;border-radius:50%;background:#9a9a9a"></div><div class="a" style="left:526.20px;top:349.75px;width:4.2px;height:4.2px;border-radius:50%;background:#9a9a9a"></div><div class="a" style="left:526.20px;top:357.85px;width:4.2px;height:4.2px;border-radius:50%;background:#9a9a9a"></div><div class="a" style="left:526.20px;top:365.95px;width:4.2px;height:4.2px;border-radius:50%;background:#9a9a9a"></div><div class="a" style="left:526.20px;top:388.47px;width:4.2px;height:4.2px;border-radius:50%;background:#9a9a9a"></div><div class="a" style="left:526.20px;top:396.57px;width:4.2px;height:4.2px;border-radius:50%;background:#9a9a9a"></div><div class="a" style="left:526.20px;top:404.68px;width:4.2px;height:4.2px;border-radius:50%;background:#9a9a9a"></div><div class="a" style="left:526.20px;top:465.94px;width:4.2px;height:4.2px;border-radius:50%;background:#9a9a9a"></div><div class="a" style="left:526.20px;top:474.04px;width:4.2px;height:4.2px;border-radius:50%;background:#9a9a9a"></div><div class="a" style="left:526.20px;top:482.14px;width:4.2px;height:4.2px;border-radius:50%;background:#9a9a9a"></div><div class="a" style="left:526.20px;top:504.66px;width:4.2px;height:4.2px;border-radius:50%;background:#9a9a9a"></div><div class="a" style="left:526.20px;top:512.76px;width:4.2px;height:4.2px;border-radius:50%;background:#9a9a9a"></div><div class="a" style="left:526.20px;top:520.87px;width:4.2px;height:4.2px;border-radius:50%;background:#9a9a9a"></div><div class="a" style="left:526.20px;top:543.39px;width:4.2px;height:4.2px;border-radius:50%;background:#9a9a9a"></div><div class="a" style="left:526.20px;top:551.50px;width:4.2px;height:4.2px;border-radius:50%;background:#9a9a9a"></div><div class="a" style="left:526.20px;top:559.60px;width:4.2px;height:4.2px;border-radius:50%;background:#9a9a9a"></div><div class="a" style="left:526.20px;top:620.86px;width:4.2px;height:4.2px;border-radius:50%;background:#9a9a9a"></div><div class="a" style="left:526.20px;top:628.96px;width:4.2px;height:4.2px;border-radius:50%;background:#9a9a9a"></div><div class="a" style="left:526.20px;top:637.06px;width:4.2px;height:4.2px;border-radius:50%;background:#9a9a9a"></div><div class="a" style="left:526.20px;top:659.58px;width:4.2px;height:4.2px;border-radius:50%;background:#9a9a9a"></div><div class="a" style="left:526.20px;top:667.68px;width:4.2px;height:4.2px;border-radius:50%;background:#9a9a9a"></div><div class="a" style="left:526.20px;top:675.78px;width:4.2px;height:4.2px;border-radius:50%;background:#9a9a9a"></div><div class="a" style="left:526.20px;top:698.31px;width:4.2px;height:4.2px;border-radius:50%;background:#9a9a9a"></div><div class="a" style="left:526.20px;top:706.41px;width:4.2px;height:4.2px;border-radius:50%;background:#9a9a9a"></div><div class="a" style="left:526.20px;top:714.51px;width:4.2px;height:4.2px;border-radius:50%;background:#9a9a9a"></div>
<div class="a" style="left:543.6px;top:110px;width:1.4px;height:638px;background:#8a8a8a"></div>
<div class="a" style="left:544px;top:418.3px;width:23.4px;height:39.3px;background:#888;border-radius:0 3px 3px 0"></div>
<svg class="a" style="left:550px;top:431px" width="12" height="14" viewBox="0 0 12 14"><path d="M9.5,1.8 L9.5,12.2 L2,7Z" stroke="#fff" stroke-width="1.5" fill="none" stroke-linejoin="round"/></svg>
<div class="a" style="left:203.7px;top:340.5px;width:314.3px;height:212.5px;background:#fff;box-shadow:0 2px 7px rgba(0,0,0,0.17)"></div><div class="a" style="left:220.3px;top:359.20px;width:21.5px;height:21.5px;background:#2b88d8;border-radius:3px"></div><svg class="a" style="left:220.3px;top:359.20px" width="21.5" height="21.5" viewBox="0 0 21.5 21.5"><path d="M4.5,11 L9,15.2 L17,6.8" stroke="#fff" stroke-width="1.8" fill="none"/></svg><svg class="a" style="left:258.00px;top:357.90px" width="24" height="24" viewBox="0 0 24 24"><defs><clipPath id="c15"><circle cx="12" cy="12" r="12"/></clipPath></defs><g clip-path="url(#c15)"><circle cx="12" cy="12" r="12" fill="#c7d1cf"/><ellipse cx="10.6" cy="10" rx="4.3" ry="5.6" fill="#c38e74"/><path d="M5.5,8 Q5.5,1 11.5,0.8 Q17.5,1 17.3,8.5 L15.8,9.5 L15,5.5 Q11,5 7.5,7Z" fill="#5a3b2b"/><path d="M4.8,24 L5.2,17.6 L10.3,15.2 L16.3,13 L22.8,16.8 L20.5,24Z" fill="#1c4a86"/></g></svg><div class="t" style="left:295.60px;top:352.50px;height:30px;line-height:30px;font-size:15px;font-weight:normal;color:#4a4a4a;letter-spacing:0px;">James</div><div class="a" style="left:387.5px;top:357.10px;width:57px;height:25.6px;box-sizing:border-box;border:1.5px solid #aaa;border-radius:2.5px;background:#fff"></div><div class="t" style="left:449.30px;top:355.50px;height:30px;line-height:30px;font-size:13.3px;font-weight:normal;color:#888;letter-spacing:0px;">h</div><div class="a" style="left:220.3px;top:393.90px;width:21.5px;height:21.5px;box-sizing:border-box;border:1.5px solid #a5a5a5;border-radius:3px;background:#fff"></div><svg class="a" style="left:258.00px;top:392.60px" width="24" height="24" viewBox="0 0 24 24"><defs><clipPath id="c16"><circle cx="12" cy="12" r="12"/></clipPath></defs><g clip-path="url(#c16)"><circle cx="12" cy="12" r="12" fill="#0f0f0f"/><path d="M17.3,5 Q24,8 24,14 L22,22 L18,21Z" fill="#6b8960"/><ellipse cx="12.3" cy="16" rx="5.9" ry="8" fill="#c4937c"/><path d="M4,10 Q5,2 12,2 Q19.5,2 20,10 L18.6,11.5 Q16,8.5 12,8.2 Q7.5,8.2 5.2,12Z" fill="#0d0d0d"/><ellipse cx="9.6" cy="14.3" rx="1.2" ry="0.6" fill="#4a3a35"/><ellipse cx="14.8" cy="14.3" rx="1.2" ry="0.6" fill="#4a3a35"/><ellipse cx="12.3" cy="20.5" rx="1.6" ry="0.6" fill="#b07a70"/></g></svg><div class="t" style="left:295.60px;top:389.50px;height:30px;line-height:30px;font-size:15px;font-weight:normal;color:#4a4a4a;letter-spacing:0px;">Elli</div><div class="a" style="left:387.5px;top:391.80px;width:57px;height:25.6px;box-sizing:border-box;border:1.5px solid #aaa;border-radius:2.5px;background:#fff"></div><div class="t" style="left:396.00px;top:390.00px;height:30px;line-height:30px;font-size:15px;font-weight:normal;color:#444;letter-spacing:0px;">5</div><div class="t" style="left:449.30px;top:388.70px;height:30px;line-height:30px;font-size:13.3px;font-weight:normal;color:#888;letter-spacing:0px;">item</div><svg class="a" style="left:493.90px;top:393.90px" width="7.81" height="21.90" viewBox="0 0 10.7 30"><circle cx="5.35" cy="3.7" r="3.7" fill="#e0474c"/><path d="M0,12.8 C0,10.6 2.4,9.1 5.35,9.1 C8.3,9.1 10.7,10.6 10.7,12.8 L10.7,19.6 L9.3,20.2 L7.6,29.9 L3.1,29.9 L1.4,20.2 L0,19.6 Z" fill="#e0474c"/></svg><div class="a" style="left:220.3px;top:428.80px;width:21.5px;height:21.5px;background:#2b88d8;border-radius:3px"></div><svg class="a" style="left:220.3px;top:428.80px" width="21.5" height="21.5" viewBox="0 0 21.5 21.5"><path d="M4.5,11 L9,15.2 L17,6.8" stroke="#fff" stroke-width="1.8" fill="none"/></svg><svg class="a" style="left:258.00px;top:427.50px" width="24" height="24" viewBox="0 0 24 24"><defs><clipPath id="c17"><circle cx="12" cy="12" r="12"/></clipPath></defs><g clip-path="url(#c17)"><circle cx="12" cy="12" r="12" fill="#d8d2c9"/><path d="M5,24 L6.5,20.5 Q12,19.5 17.5,20.5 L19,24Z" fill="#2a2a30"/><ellipse cx="12.4" cy="12.6" rx="6.3" ry="7.9" fill="#c9a28a"/><path d="M7,16 Q7.5,20.8 12.4,21 Q17.3,20.8 17.8,16 L16.8,17.5 Q12.4,20 8,17.5Z" fill="#4a3a30"/><path d="M6.2,11 Q5.6,3 12.3,2.6 Q19,2.6 18.7,10.5 L17.6,7.6 Q12.6,5.8 7.6,7.8Z" fill="#29231f"/><ellipse cx="10" cy="12.2" rx="1.3" ry="0.7" fill="#5a4438"/><ellipse cx="15" cy="12.2" rx="1.3" ry="0.7" fill="#5a4438"/><path d="M12.4,13 L11.8,15.6 L13,15.6" stroke="#a57e68" stroke-width="0.6" fill="none"/></g></svg><div class="t" style="left:295.60px;top:424.40px;height:30px;line-height:30px;font-size:15px;font-weight:normal;color:#4a4a4a;letter-spacing:0px;">Peter</div><div class="a" style="left:387.5px;top:426.70px;width:57px;height:25.6px;box-sizing:border-box;border:1.5px solid #aaa;border-radius:2.5px;background:#fff"></div><div class="t" style="left:396.00px;top:424.90px;height:30px;line-height:30px;font-size:15px;font-weight:normal;color:#444;letter-spacing:0px;">10</div><div class="t" style="left:449.30px;top:425.10px;height:30px;line-height:30px;font-size:13.3px;font-weight:normal;color:#888;letter-spacing:0px;">cost</div><svg class="a" style="left:493.90px;top:430.00px" width="7.81" height="21.90" viewBox="0 0 10.7 30"><circle cx="5.35" cy="3.7" r="3.7" fill="#e0474c"/><path d="M0,12.8 C0,10.6 2.4,9.1 5.35,9.1 C8.3,9.1 10.7,10.6 10.7,12.8 L10.7,19.6 L9.3,20.2 L7.6,29.9 L3.1,29.9 L1.4,20.2 L0,19.6 Z" fill="#e0474c"/></svg><div class="a" style="left:220.3px;top:464.70px;width:21.5px;height:21.5px;box-sizing:border-box;border:1.5px solid #a5a5a5;border-radius:3px;background:#fff"></div><svg class="a" style="left:258.00px;top:463.40px" width="24" height="24" viewBox="0 0 24 24"><defs><clipPath id="c18"><circle cx="12" cy="12" r="12"/></clipPath></defs><g clip-path="url(#c18)"><circle cx="12" cy="12" r="12" fill="#2f2422"/><rect x="0" y="7" width="4" height="3.5" fill="#d8d8d8"/><path d="M3,24 Q5,14 12,15 Q19,14 21,24Z" fill="#5c3b2c"/><ellipse cx="12" cy="10.5" rx="4.5" ry="6.6" fill="#d6ab95"/><path d="M9.5,20 L14.5,20 L15,24 L9,24Z" fill="#c4987f"/></g></svg><div class="t" style="left:295.60px;top:460.30px;height:30px;line-height:30px;font-size:15px;font-weight:normal;color:#4a4a4a;letter-spacing:0px;">Mary</div><div class="a" style="left:387.5px;top:462.60px;width:57px;height:25.6px;box-sizing:border-box;border:1.5px solid #aaa;border-radius:2.5px;background:#fff"></div><div class="t" style="left:449.30px;top:461.00px;height:30px;line-height:30px;font-size:13.3px;font-weight:normal;color:#888;letter-spacing:0px;">h</div><div class="a" style="left:220.3px;top:514.00px;width:21.5px;height:21.5px;box-sizing:border-box;border:1.5px solid #a5a5a5;border-radius:3px;background:#fff"></div><svg class="a" style="left:258.00px;top:512.70px" width="24" height="24" viewBox="0 0 24 24"><defs><clipPath id="c19"><circle cx="12" cy="12" r="12"/></clipPath></defs><g clip-path="url(#c19)"><circle cx="12" cy="12" r="12" fill="#666"/><path d="M9.8,7 L9.8,16.8 L15.6,16.8" stroke="#fff" stroke-width="1.9" fill="none"/></g></svg><div class="t" style="left:295.60px;top:509.60px;height:30px;line-height:30px;font-size:15px;font-weight:normal;color:#4a4a4a;letter-spacing:0px;">Licence</div><div class="a" style="left:387.5px;top:511.90px;width:57px;height:25.6px;box-sizing:border-box;border:1.5px solid #aaa;border-radius:2.5px;background:#fff"></div><div class="t" style="left:449.30px;top:510.30px;height:30px;line-height:30px;font-size:13.3px;font-weight:normal;color:#888;letter-spacing:0px;">cost</div><div class="a" style="left:220.3px;top:500.00px;width:281.7px;height:1px;background:#dedede"></div>
<svg class="a" style="left:12px;top:21px" width="30" height="30" viewBox="0 0 30 30"><g stroke="#0f4a43" stroke-width="1.6" fill="none" stroke-linejoin="miter"><path d="M14.9,3.1 L26.8,15 L14.9,26.9 L3,15Z"/><path d="M14.9,10.6 L19.6,15 L14.9,19.3 L10.2,15Z"/><path d="M14.9,3.1 C13.2,5.5 13.5,8.5 14.9,10.6"/><path d="M14.9,19.3 C16.4,21.5 16.6,24.5 14.9,26.9"/></g></svg><div class="t" style="left:58px;top:21px;height:30px;line-height:30px;font-size:20.2px;font-weight:normal;color:#444;-webkit-text-stroke:0.8px #444;letter-spacing:0.8px">Manufacturing project</div><svg class="a" style="left:287.5px;top:26px" width="20" height="19" viewBox="0 0 20 19"><path d="M10,1.3 L12.4,7 L18.6,7.4 L13.9,11.4 L15.4,17.4 L10,14.2 L4.6,17.4 L6.1,11.4 L1.4,7.4 L7.6,7 Z" stroke="#666" stroke-width="1.6" fill="none" stroke-linejoin="round"/></svg><div class="t" style="left:16.2px;top:67.5px;height:30px;line-height:30px;font-size:19.4px;font-weight:bold;color:#1a68c6">Gantt chart</div><div class="t" style="left:149px;top:67.5px;height:30px;line-height:30px;font-size:19px;font-weight:normal;color:#555">Board</div><div class="t" style="left:229px;top:67.5px;height:30px;line-height:30px;font-size:19px;font-weight:normal;color:#555">List</div><div class="t" style="left:287.4px;top:67.5px;height:30px;line-height:30px;font-size:19.3px;font-weight:normal;color:#555">Workload</div><div class="t" style="left:398.6px;top:67.5px;height:30px;line-height:30px;font-size:19px;font-weight:normal;color:#555">People</div><div class="a" style="left:0;top:109px;width:768px;height:1.8px;background:#cdcdcd"></div><div class="a" style="left:16px;top:107px;width:104px;height:3.8px;background:#1765c2"></div>
</body></html>
